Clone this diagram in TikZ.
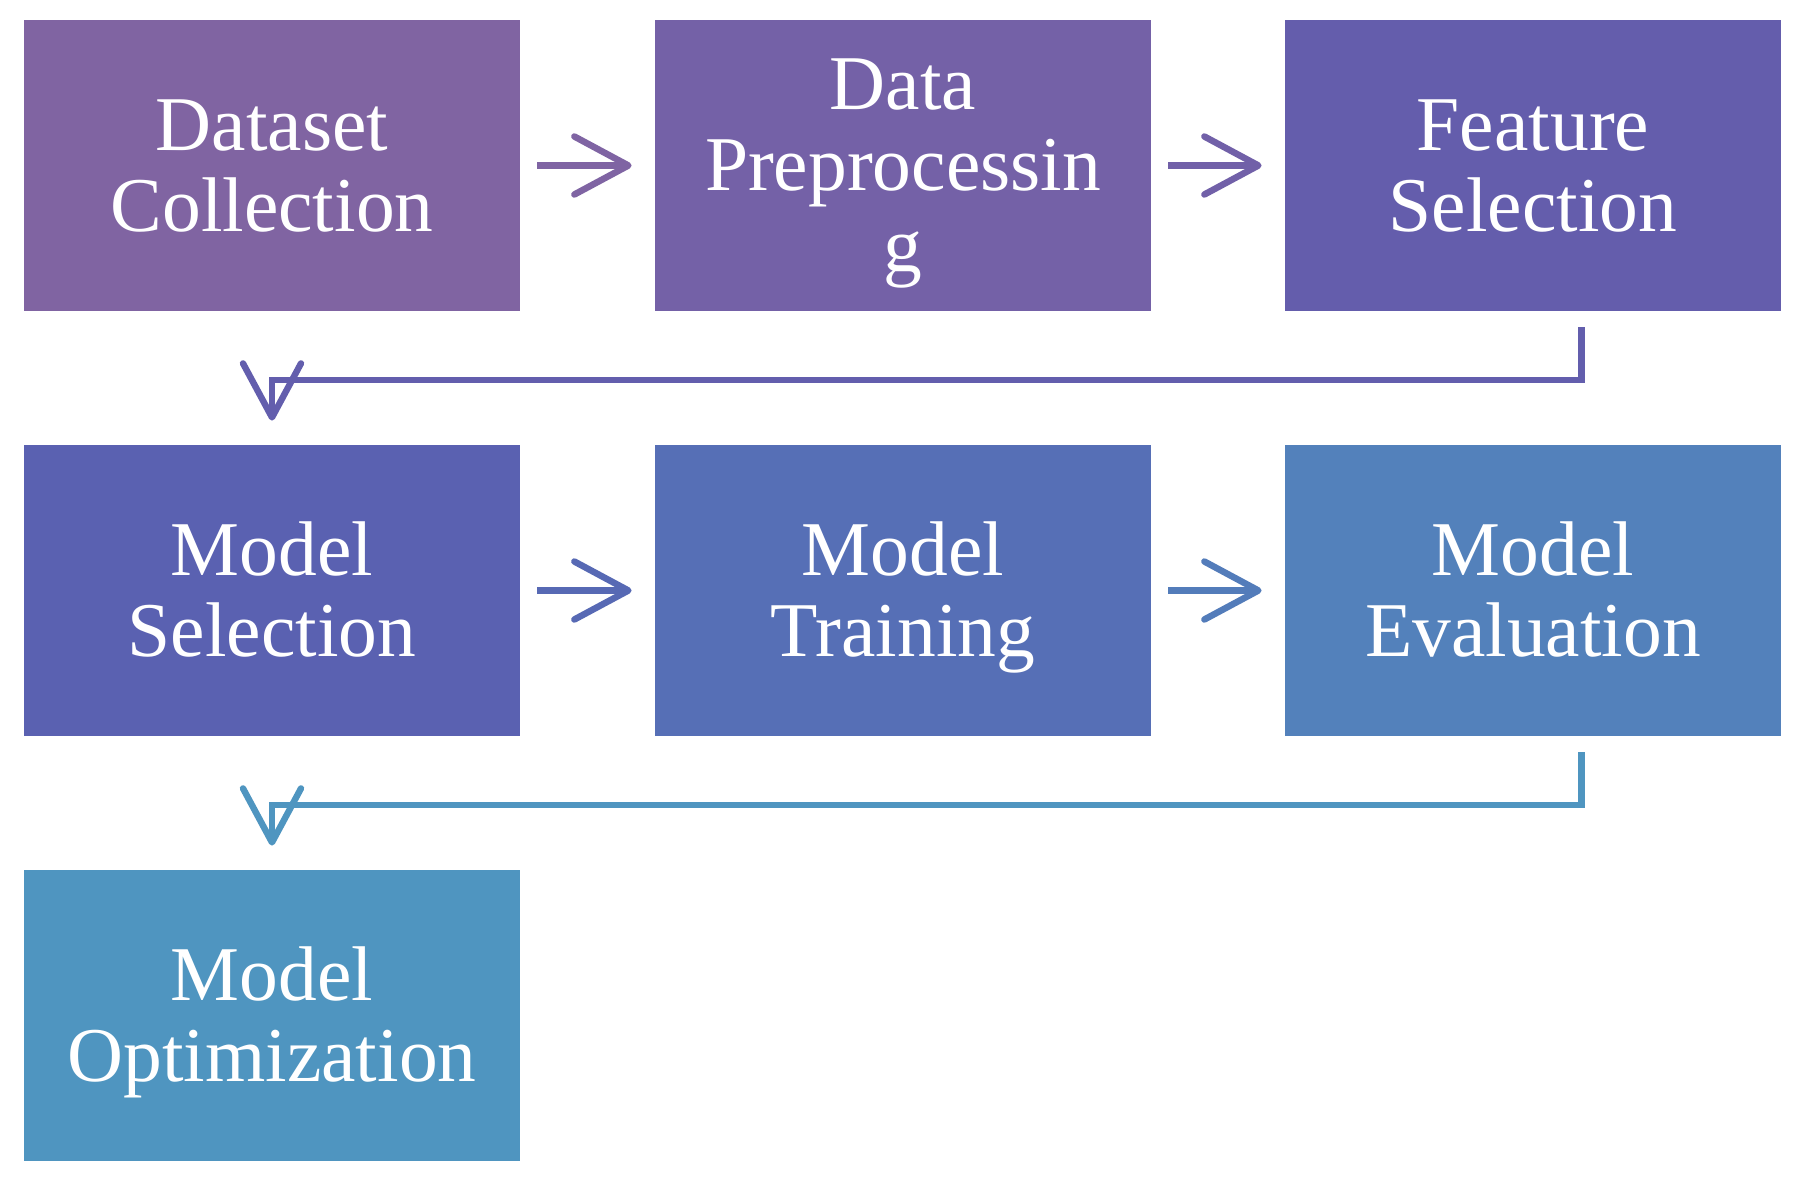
\documentclass[tikz,border=0pt]{standalone}
\usepackage{fontspec}
\setmainfont{Liberation Serif}
\usetikzlibrary{arrows.meta}
\definecolor{b1}{HTML}{8064A2}
\definecolor{b2}{HTML}{7461A7}
\definecolor{b3}{HTML}{645DAC}
\definecolor{b4}{HTML}{5A61B1}
\definecolor{b5}{HTML}{566FB6}
\definecolor{b6}{HTML}{5381BB}
\definecolor{b7}{HTML}{4F95C0}
\definecolor{a1}{HTML}{7F64A3}
\definecolor{a2}{HTML}{7160A8}
\definecolor{a3}{HTML}{635EAD}
\definecolor{a4}{HTML}{5769B4}
\definecolor{a5}{HTML}{537CBA}
\definecolor{a6}{HTML}{4F95C0}
\newcommand\myTopStrut{\rule{0pt}{0.87em}}
\newcommand\myBotStrut{\rule[-0.22em]{0pt}{0.22em}}
\tikzset{
  stepbox/.style={rectangle, draw=none, minimum width=248pt, minimum height=145.5pt,
    inner sep=0pt, text=white, align=center,
    font=\fontsize{38.75}{40.5}\selectfont},
  arr/.style={line width=3.25pt,
    -{Straight Barb[length=27pt,width=29pt,line cap=round,line join=round]}},
  bendarr/.style={line width=3.2pt, line join=miter,
    -{Straight Barb[length=27pt,width=29pt,line cap=round,line join=round]}}
}
\begin{document}
\begin{tikzpicture}[x=0.5pt,y=-0.5pt]
\useasboundingbox[fill=white] (0,0) rectangle (1803,1183);
\node[stepbox, fill=b1] (dc) at (272,165.5) {\myTopStrut Dataset\\Collection\myBotStrut};
\node[stepbox, fill=b2] (dp) at (903,165.5) {\myTopStrut Data\\Preprocessin\\g\myBotStrut};
\node[stepbox, fill=b3] (fs) at (1533,165.5) {\myTopStrut Feature\\Selection\myBotStrut};
\node[stepbox, fill=b4] (ms) at (272,590.5) {\myTopStrut Model\\Selection\myBotStrut};
\node[stepbox, fill=b5] (mt) at (903,590.5) {\myTopStrut Model\\Training\myBotStrut};
\node[stepbox, fill=b6] (me) at (1533,590.5) {\myTopStrut Model\\Evaluation\myBotStrut};
\node[stepbox, fill=b7] (mo) at (272,1015.5) {\myTopStrut Model\\Optimization\myBotStrut};
\draw[arr, draw=a1] ([xshift=8.5pt]dc.east) -- ([xshift=-11.5pt]dp.west);
\draw[arr, draw=a2] ([xshift=8.5pt]dp.east) -- ([xshift=-11.5pt]fs.west);
\draw[bendarr, draw=a3] ([xshift=24.25pt,yshift=-8pt]fs.south) -- ++(0pt,-26.25pt) -| ([yshift=12pt]ms.north);
\draw[arr, draw=a4] ([xshift=8.5pt]ms.east) -- ([xshift=-11.5pt]mt.west);
\draw[arr, draw=a5] ([xshift=8.5pt]mt.east) -- ([xshift=-11.5pt]me.west);
\draw[bendarr, draw=a6] ([xshift=24.25pt,yshift=-8pt]me.south) -- ++(0pt,-26.25pt) -| ([yshift=12pt]mo.north);
\end{tikzpicture}
\end{document}
